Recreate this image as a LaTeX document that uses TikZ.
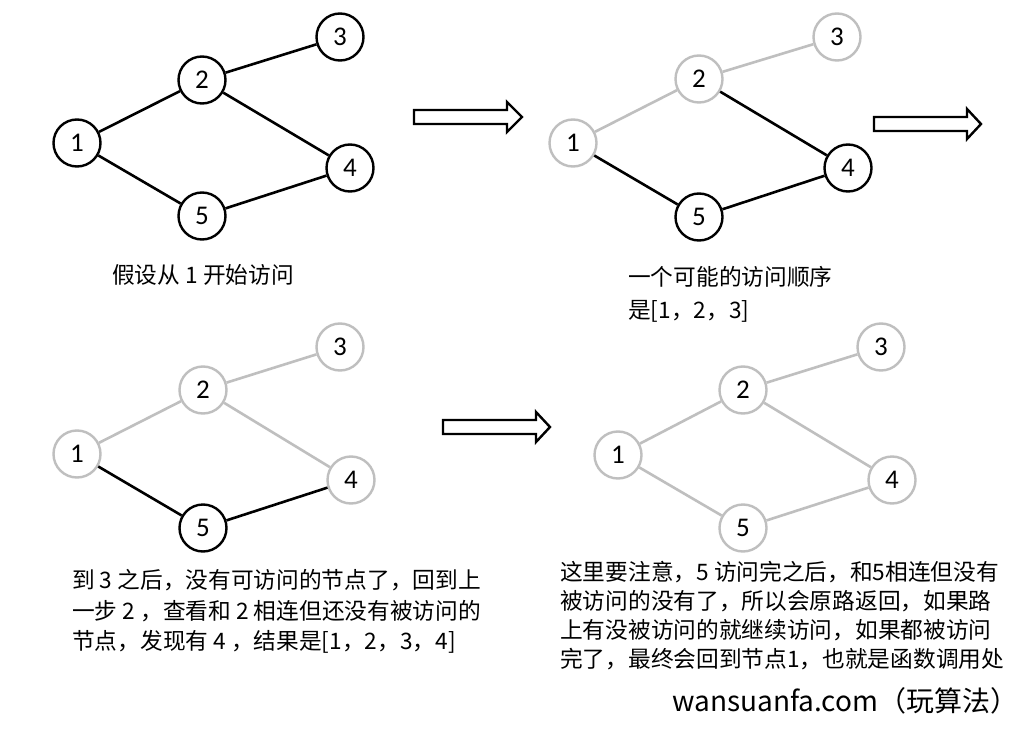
\documentclass[tikz,border=0pt]{standalone}
\usepackage{fontspec}
\setmainfont{Noto Sans CJK SC}
\newfontfamily\numfont{Carlito}
\definecolor{lgray}{HTML}{BFBFBF}
\begin{document}
\begin{tikzpicture}[x=1pt,y=-1pt,
 vtx/.style={circle,draw=black,line width=2.4pt,minimum size=47pt,inner sep=0pt,fill=white,font=\numfont\fontsize{27}{27}\selectfont},
 dim/.style={draw=lgray},
 edge/.style={line width=2.6pt,black},
 dedge/.style={line width=2.6pt,lgray},
 txt/.style={anchor=base west,inner sep=0pt,font=\fontsize{22.7}{26}\selectfont},
 blockarrow/.style={draw=black,fill=white,line width=2.4pt,line join=miter}]
\fill[white] (0,0) rectangle (1022,730);
\useasboundingbox (0,0) rectangle (1022,730);

% Diagram 1
\node[vtx] (a1) at (77,143) {1};
\node[vtx] (a2) at (202,80) {2};
\node[vtx] (a3) at (340,37) {3};
\node[vtx] (a4) at (350,168) {4};
\node[vtx] (a5) at (202,216) {5};
\draw[edge] (a1) -- (a2);
\draw[edge] (a2) -- (a3);
\draw[edge] (a2) -- (a4);
\draw[edge] (a1) -- (a5);
\draw[edge] (a5) -- (a4);

% Diagram 2
\node[vtx,dim] (b1) at (573,143) {1};
\node[vtx,dim] (b2) at (699,79) {2};
\node[vtx,dim] (b3) at (837,37) {3};
\node[vtx] (b4) at (848,168) {4};
\node[vtx] (b5) at (699,217) {5};
\draw[dedge] (b1) -- (b2);
\draw[dedge] (b2) -- (b3);
\draw[edge] (b2) -- (b4);
\draw[edge] (b1) -- (b5);
\draw[edge] (b5) -- (b4);

% Diagram 3
\node[vtx,dim] (c1) at (77,454) {1};
\node[vtx,dim] (c2) at (203,390) {2};
\node[vtx,dim] (c3) at (340,347) {3};
\node[vtx,dim] (c4) at (351,480) {4};
\node[vtx] (c5) at (203,528) {5};
\draw[dedge] (c1) -- (c2);
\draw[dedge] (c2) -- (c3);
\draw[dedge] (c2) -- (c4);
\draw[edge] (c1) -- (c5);
\draw[edge] (c5) -- (c4);

% Diagram 4
\node[vtx,dim] (d1) at (618,455) {1};
\node[vtx,dim] (d2) at (743,390) {2};
\node[vtx,dim] (d3) at (881,347) {3};
\node[vtx,dim] (d4) at (892,480) {4};
\node[vtx,dim] (d5) at (743,528) {5};
\draw[dedge] (d1) -- (d2);
\draw[dedge] (d2) -- (d3);
\draw[dedge] (d2) -- (d4);
\draw[dedge] (d1) -- (d5);
\draw[dedge] (d5) -- (d4);

% Block arrows
\draw[blockarrow] (414,110) -- (507,110) -- (507,102) -- (522,117) -- (507,132) -- (507,124) -- (414,124) -- cycle;
\draw[blockarrow] (874,117) -- (967,117) -- (967,109) -- (981,124) -- (967,139) -- (967,131) -- (874,131) -- cycle;
\draw[blockarrow] (443,420) -- (536,420) -- (536,412) -- (550,427) -- (536,442) -- (536,434) -- (443,434) -- cycle;

% Texts
\node[txt] (t1) at (112,283) {假设从 1 开始访问};
\node[txt] (t2a) at (628,285) {一个可能的访问顺序};
\node[txt] (t2b) at (628,318) {是[1，2，3]};
\node[txt] (t3a) at (72,588) {到 3 之后，没有可访问的节点了，回到上};
\node[txt] (t3b) at (72,619) {一步 2 ，查看和 2 相连但还没有被访问的};
\node[txt] (t3c) at (72,649) {节点，发现有 4 ，结果是[1，2，3，4]};
\node[txt] (t4a) at (560,580) {这里要注意，5 访问完之后，和5相连但没有};
\node[txt] (t4b) at (560,609) {被访问的没有了，所以会原路返回，如果路};
\node[txt] (t4c) at (560,638) {上有没被访问的就继续访问，如果都被访问};
\node[txt] (t4d) at (560,667) {完了，最终会回到节点1，也就是函数调用处};
\node[txt,font=\fontsize{28}{32}\selectfont] (wm) at (672,711) {wansuanfa.com（玩算法）};
\end{tikzpicture}
\end{document}
